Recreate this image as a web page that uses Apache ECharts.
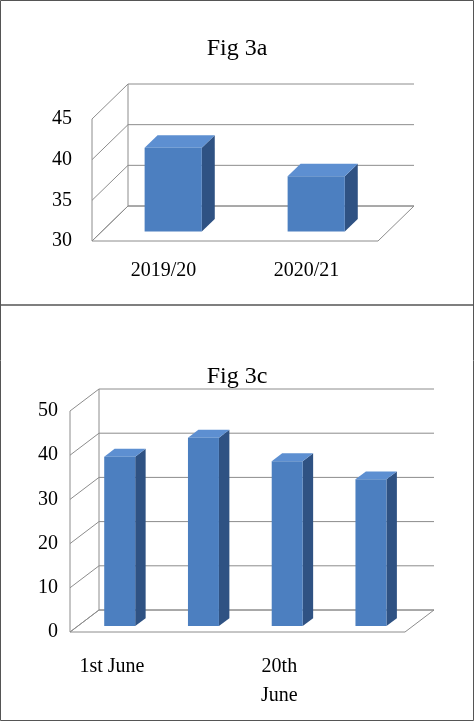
<!DOCTYPE html><html><head><meta charset="utf-8">
<script src="https://cdn.jsdelivr.net/npm/echarts@6/dist/echarts.min.js"></script>
<style>html,body{margin:0;padding:0;background:#fff}#c{width:474px;height:721px}</style></head><body><div id="c"></div>
<script>
const catsA = ['2019/20', '2020/21'];
const valsA = [40.3, 36.8];
const ticksA = [30, 35, 40, 45];
const catsC = ['1st June', '10th\nJune', '20th\nJune', '30th\nJune'];
const valsC = [38.3, 42.6, 37.3, 33.2];
const ticksC = [0, 10, 20, 30, 40, 50];

const F = 'Liberation Serif';
const chart = echarts.init(document.getElementById('c'));
const D = [{dx: 36, dy: 35}, {dx: 29, dy: 22}];
const MIN = [30, 0];
function walls(gi) {
  return function (params, api) {
    const cs = params.coordSys, d = D[gi];
    const x = cs.x, w = cs.width;
    const yv = api.coord([0, api.value(0)])[1];
    const c = [];
    const st = {stroke: '#8c8c8c', lineWidth: 1, fill: null};
    c.push({type: 'polyline', shape: {points: [[x, yv], [x + d.dx, yv - d.dy], [x + w + d.dx, yv - d.dy]]}, style: st});
    if (params.dataIndex === 0) {
      const yb = cs.y + cs.height, yt = cs.y;
      c.push({type: 'polygon', shape: {points: [[x, yb], [x + w, yb], [x + w + d.dx, yb - d.dy], [x + d.dx, yb - d.dy]]}, style: st});
      c.push({type: 'line', shape: {x1: x, y1: yb, x2: x, y2: yt}, style: st});
      c.push({type: 'line', shape: {x1: x + d.dx, y1: yb - d.dy, x2: x + d.dx, y2: yt - d.dy}, style: st});
    }
    return {type: 'group', children: c};
  };
}
function bars(gi, bw) {
  return function (params, api) {
    const d = D[gi], f = 0.27, t = 0.36;
    const i = api.value(0), v = api.value(1);
    const p = api.coord([i, v]), b = api.coord([i, MIN[gi]]);
    const hw = api.size([1, 0])[0] * bw / 2;
    const ox = f * d.dx, oy = f * d.dy, sx = t * d.dx, sy = t * d.dy;
    const l = p[0] - hw + ox, r = p[0] + hw + ox, top = p[1] - oy, bot = b[1] - oy;
    return {type: 'group', children: [
      {type: 'polygon', shape: {points: [[r, top], [r + sx, top - sy], [r + sx, bot - sy], [r, bot]]}, style: {fill: '#2f5283'}},
      {type: 'polygon', shape: {points: [[l, top], [l + sx, top - sy], [r + sx, top - sy], [r, top]]}, style: {fill: '#5d8fd1'}},
      {type: 'rect', shape: {x: l, y: top, width: r - l, height: bot - top}, style: {fill: '#4c7fc0'}}
    ]};
  };
}
const lab = {fontFamily: F, fontSize: 20, color: '#000'};
chart.setOption({
  animation: false,
  title: [
    {text: 'Fig 3a', left: 'center', top: 32, textStyle: {fontFamily: F, fontSize: 24, fontWeight: 'normal', color: '#000'}},
    {text: 'Fig 3c', left: 'center', top: 360, textStyle: {fontFamily: F, fontSize: 24, fontWeight: 'normal', color: '#000'}}
  ],
  graphic: [
    {type: 'rect', shape: {x: 0.5, y: 0.5, width: 473, height: 720}, style: {fill: null, stroke: '#555', lineWidth: 1}},
    {type: 'line', shape: {x1: 0, y1: 305, x2: 474, y2: 305}, style: {stroke: '#555', lineWidth: 1.5}}
  ],
  grid: [
    {left: 92, right: 96, top: 119, bottom: 480},
    {left: 70, right: 69, top: 411, bottom: 89}
  ],
  xAxis: [
    {type: 'category', gridIndex: 0, data: catsA, axisLine: {show: false}, axisTick: {show: false}, axisLabel: Object.assign({margin: 20}, lab)},
    {type: 'category', gridIndex: 1, data: catsC, axisLine: {show: false}, axisTick: {show: false}, axisLabel: Object.assign({margin: 20, lineHeight: 29}, lab)}
  ],
  yAxis: [
    {type: 'value', gridIndex: 0, min: 30, max: 45, interval: 5, splitLine: {show: false}, axisLine: {show: false}, axisTick: {show: false}, axisLabel: Object.assign({margin: 20}, lab)},
    {type: 'value', gridIndex: 1, min: 0, max: 50, interval: 10, splitLine: {show: false}, axisLine: {show: false}, axisTick: {show: false}, axisLabel: Object.assign({margin: 12}, lab)}
  ],
  series: [
    {type: 'custom', xAxisIndex: 0, yAxisIndex: 0, data: ticksA.map(v => [v]), renderItem: walls(0), encode: {y: 0}, silent: true},
    {type: 'custom', xAxisIndex: 1, yAxisIndex: 1, data: ticksC.map(v => [v]), renderItem: walls(1), encode: {y: 0}, silent: true},
    {type: 'custom', xAxisIndex: 0, yAxisIndex: 0, data: valsA.map((v, i) => [i, v]), renderItem: bars(0, 0.4), encode: {x: 0, y: 1}},
    {type: 'custom', xAxisIndex: 1, yAxisIndex: 1, data: valsC.map((v, i) => [i, v]), renderItem: bars(1, 0.37), encode: {x: 0, y: 1}}
  ]
});
</script></body></html>
